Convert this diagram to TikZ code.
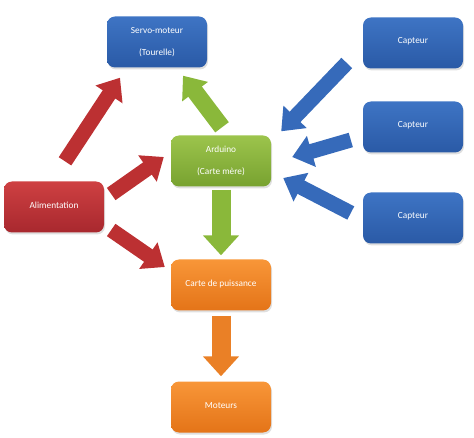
\documentclass[tikz,border=0pt]{standalone}
\usepackage{fontspec}
\setmainfont{Carlito}
\usetikzlibrary{arrows.meta,calc,shadows}
\definecolor{BleuHaut}{RGB}{62,116,196}
\definecolor{BleuBas}{RGB}{42,90,166}
\definecolor{RougeHaut}{RGB}{206,64,66}
\definecolor{RougeBas}{RGB}{168,40,46}
\definecolor{VertHaut}{RGB}{156,196,76}
\definecolor{VertBas}{RGB}{120,162,48}
\definecolor{OrangeHaut}{RGB}{248,150,56}
\definecolor{OrangeBas}{RGB}{228,116,24}
\definecolor{FlecheRouge}{RGB}{188,48,50}
\definecolor{FlecheVerte}{RGB}{138,184,58}
\definecolor{FlecheBleue}{RGB}{54,106,186}
\definecolor{FlecheOrange}{RGB}{234,128,38}

\begin{document}
\begin{tikzpicture}[x=1pt,y=-1pt,
      font=\fontsize{9.3}{11}\selectfont,
      boite/.style={rounded corners=8pt,minimum width=100pt,minimum height=51pt,
        align=center,text=white,drop shadow={opacity=0.25,shadow xshift=1pt,shadow yshift=-2pt}},
      bleu/.style={boite,top color=BleuHaut,bottom color=BleuBas},
      rouge/.style={boite,top color=RougeHaut,bottom color=RougeBas},
      vert/.style={boite,top color=VertHaut,bottom color=VertBas},
      orange/.style={boite,top color=OrangeHaut,bottom color=OrangeBas},
      bloc/.style={line width=15pt,-{Triangle[width=31pt,length=20pt]}}
    ]
      \useasboundingbox (0,0) rectangle (474,438);

      \node[bleu] (servo) at (157,42) {Servo-moteur\\[11pt](Tourelle)};
      \node[vert] (arduino) at (221,161) {Arduino\\[11pt](Carte mère)};
      \node[rouge] (alim) at (54,207) {\raisebox{3pt}{Alimentation}};
      \node[bleu] (capt1) at (413,43) {\raisebox{5pt}{Capteur}};
      \node[bleu] (capt2) at (413,127) {\raisebox{5pt}{Capteur}};
      \node[bleu] (capt3) at (413,218) {\raisebox{5pt}{Capteur}};
      \node[orange] (carte) at (221,285) {\raisebox{4pt}{Carte de puissance}};
      \node[orange] (moteurs) at (221,407) {\raisebox{3pt}{Moteurs}};

      % alimentation
      \draw[bloc,FlecheRouge] ($(alim.north)+(11,-20)$) -- ($(servo.south)+(-37,10)$);
      \draw[bloc,FlecheRouge] ($(alim.east)+(7,-13)$) -- ($(arduino.west)+(-7,-4)$);
      \draw[bloc,FlecheRouge] ($(alim.east)+(7,23)$) -- ($(carte.west)+(-6,-18)$);

      % arduino
      \draw[bloc,FlecheVerte,line width=17pt] ($(arduino.north)+(1,-8)$) -- ($(servo.south)+(26,8)$);
      \draw[bloc,FlecheVerte,line width=19pt,-{Triangle[width=35pt,length=20pt]}] ($(arduino.south)+(0,3)$) -- ($(carte.north)+(0,-4)$);
      \draw[bloc,FlecheOrange,line width=19pt,-{Triangle[width=35pt,length=20pt]}] ($(carte.south)+(0,5)$) -- ($(moteurs.north)+(0,-5)$);

      % capteurs
      \draw[bloc,FlecheBleue] ($(capt1.west)+(-16,20)$) -- ($(arduino.north east)+(10,-4)$);
      \draw[bloc,FlecheBleue] ($(capt2.west)+(-12,13)$) -- ($(arduino.east)+(21,-4)$);
      \draw[bloc,FlecheBleue] ($(capt3.west)+(-12,-5)$) -- ($(arduino.east)+(12,17)$);
    \end{tikzpicture}
\end{document}
